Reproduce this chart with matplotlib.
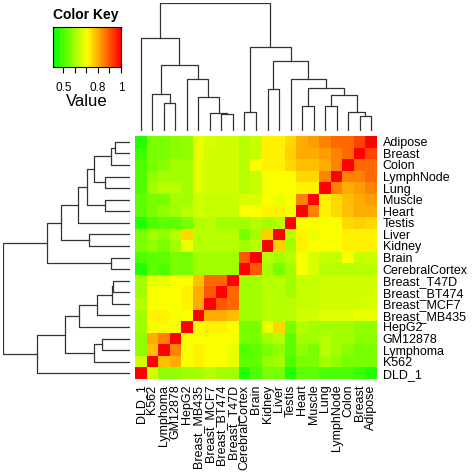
import numpy as np
import matplotlib
matplotlib.use("Agg")
import matplotlib.pyplot as plt
from matplotlib.colors import LinearSegmentedColormap

plt.rcParams['font.family'] = ['Liberation Sans', 'DejaVu Sans']

labels = ["DLD_1","K562","Lymphoma","GM12878","HepG2","Breast_MB435","Breast_MCF7",
          "Breast_BT474","Breast_T47D","CerebralCortex","Brain","Kidney","Liver","Testis",
          "Heart","Muscle","Lung","LymphNode","Colon","Breast","Adipose"]

# upper triangle rows (values to the right of the diagonal), column order = labels
upper = [
 [0.65,0.58,0.58,0.60,0.60,0.62,0.60,0.60,0.45,0.50,0.55,0.55,0.45,0.52,0.52,0.50,0.50,0.50,0.48,0.45],
 [0.78,0.80,0.70,0.72,0.70,0.70,0.68,0.52,0.52,0.58,0.60,0.50,0.55,0.55,0.60,0.58,0.55,0.55,0.55],
 [0.85,0.70,0.72,0.70,0.70,0.68,0.50,0.52,0.55,0.58,0.52,0.58,0.55,0.62,0.60,0.57,0.55,0.55],
 [0.70,0.70,0.70,0.70,0.70,0.55,0.55,0.60,0.62,0.52,0.60,0.60,0.62,0.60,0.60,0.57,0.57],
 [0.70,0.72,0.72,0.70,0.55,0.55,0.68,0.75,0.55,0.62,0.60,0.60,0.60,0.60,0.58,0.58],
 [0.80,0.80,0.78,0.60,0.60,0.62,0.62,0.62,0.65,0.65,0.67,0.67,0.67,0.68,0.68],
 [0.90,0.88,0.60,0.60,0.62,0.62,0.62,0.64,0.64,0.65,0.65,0.65,0.65,0.66],
 [0.88,0.60,0.60,0.62,0.62,0.60,0.64,0.64,0.65,0.65,0.65,0.65,0.65],
 [0.60,0.60,0.62,0.62,0.60,0.64,0.64,0.65,0.65,0.65,0.65,0.65],
 [0.90,0.60,0.55,0.60,0.70,0.66,0.62,0.62,0.62,0.62,0.62],
 [0.62,0.60,0.62,0.70,0.66,0.64,0.64,0.70,0.64,0.64],
 [0.76,0.60,0.72,0.70,0.70,0.70,0.72,0.72,0.72],
 [0.62,0.72,0.68,0.70,0.70,0.72,0.72,0.72],
 [0.70,0.70,0.70,0.70,0.75,0.76,0.75],
 [0.85,0.72,0.75,0.78,0.80,0.80],
 [0.72,0.75,0.78,0.80,0.82],
 [0.85,0.80,0.82,0.85],
 [0.85,0.85,0.88],
 [0.88,0.88],
 [0.92],
 [],
]

# dendrogram: nested (left, right, height); leaves are indices into labels
tree = (((0, ((1, (2, 3, 85), 109), (4, (5, (6, (7, 8, 51), 54), 100), 154), 197), 279),
         ((9, 10, 57), ((11, 12, 124), (13, ((14, 15, 75), ((16, 17, 75), (18, (19, 20, 45), 57), 107), 129), 156), 209), 251), 382))

n = len(labels)
M = np.eye(n)
for i, row in enumerate(upper):
    for k, v in enumerate(row):
        j = i + 1 + k
        M[i, j] = v
        M[j, i] = v

cmap = LinearSegmentedColormap.from_list("gyr", ["#00ff00", "#ffff00", "#ff0000"])
vmin, vmax = 0.41, 1.0

W = H = 474
fig = plt.figure(figsize=(4.74, 4.74), dpi=100)
def ax_px(x0, y0, x1, y1):
    return fig.add_axes([x0 / W, 1 - y1 / H, (x1 - x0) / W, (y1 - y0) / H])

hx0, hx1, hy0, hy1 = 135, 377, 136, 379
ax = ax_px(hx0, hy0, hx1, hy1)
ax.imshow(M[::-1, :], cmap=cmap, vmin=vmin, vmax=vmax, aspect="auto",
          interpolation="nearest", extent=(-0.5, n - 0.5, -0.5, n - 0.5), origin="upper")
ax.set_xlim(-0.5, n - 0.5); ax.set_ylim(-0.5, n - 0.5)
for s in ax.spines.values():
    s.set_visible(False)
ax.set_xticks(range(n)); ax.set_xticklabels(labels, rotation=90, fontsize=9)
ax.set_yticks(range(n)); ax.set_yticklabels(labels, fontsize=9)
ax.yaxis.tick_right()
ax.tick_params(length=0, pad=4)

def draw(node, axd, orient):
    if isinstance(node, int):
        return node, 0.0
    l, r, h = node
    xl, hl = draw(l, axd, orient)
    xr, hr = draw(r, axd, orient)
    xs = [xl, xl, xr, xr]; ys = [hl, h, h, hr]
    if orient == "top":
        axd.plot(xs, ys, color="#333333", lw=0.9)
    else:
        axd.plot(ys, xs, color="#333333", lw=0.9)
    return (xl + xr) / 2, h

axc = ax_px(hx0, 3, hx1, 131)
draw(tree, axc, "top")
axc.set_xlim(-0.5, n - 0.5); axc.set_ylim(0, 382); axc.axis("off")

axr = ax_px(3, hy0, 130, hy1)
draw(tree, axr, "left")
axr.set_ylim(-0.5, n - 0.5); axr.set_xlim(382, 0); axr.axis("off")

# color key
axk = ax_px(53, 27, 121, 67)
grad = np.linspace(vmin, vmax, 256)[None, :]
axk.imshow(grad, cmap=cmap, vmin=vmin, vmax=vmax, aspect="auto",
           extent=(vmin, vmax, 0, 1))
axk.set_yticks([])
axk.set_xticks([0.5, 0.6, 0.7, 0.8, 0.9, 1.0])
axk.set_xticklabels(["0.5", "", "", "0.8", "", "1"], fontsize=8.5)
axk.tick_params(axis="x", length=4, width=0.8, pad=7)
for s in axk.spines.values():
    s.set_linewidth(0.8)
fig.text(53 / W, 1 - 15 / H, "Color Key", fontsize=10, fontweight="bold", va="center")
fig.text(87 / W, 1 - 102 / H, "Value", fontsize=12, ha="center", va="center")

fig.savefig("out.png", dpi=100)
